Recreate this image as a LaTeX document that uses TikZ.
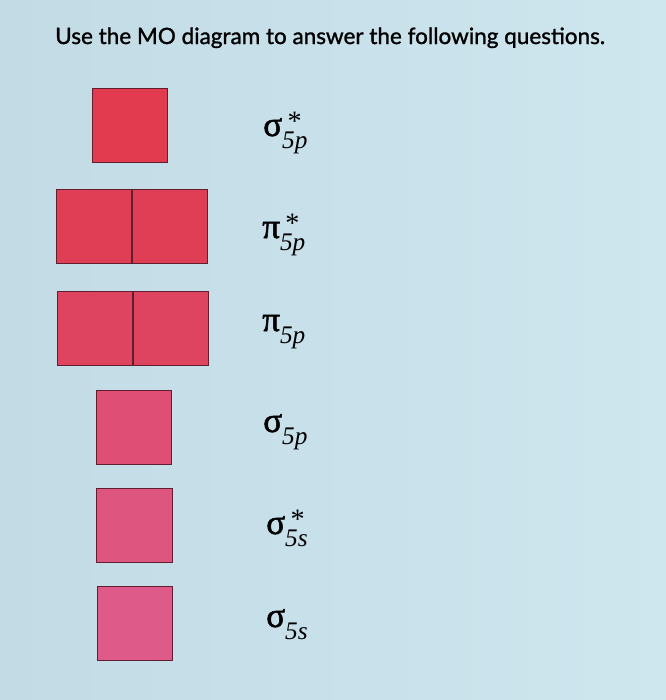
\documentclass[tikz,border=0pt]{standalone}
\usepackage{fontspec}
\setmainfont{Liberation Serif}
\newfontfamily\titlefont[FakeBold=1.2]{Lato}
\newfontfamily\greekfont[FakeBold=1.5]{Liberation Serif}
\usetikzlibrary{positioning}

\definecolor{bgleft}{RGB}{194,219,229}
\definecolor{bgright}{RGB}{206,230,238}
\definecolor{edge}{RGB}{96,30,46}
\definecolor{boxa}{RGB}{226,58,78}
\definecolor{boxb}{RGB}{224,62,84}
\definecolor{boxc}{RGB}{222,68,96}
\definecolor{boxd}{RGB}{223,78,116}
\definecolor{boxe}{RGB}{222,85,128}
\definecolor{boxf}{RGB}{222,90,136}

\newcommand{\molabel}[3]{{\greekfont #1}\rlap{\hspace{0.15em}\raisebox{0.17em}{\fontsize{20}{22}\selectfont #2}}\raisebox{-0.36em}{\fontsize{18}{20}\selectfont\itshape #3}}

\tikzset{
  orb/.style={draw=edge, line width=0.7pt, minimum width=1.875cm, minimum height=1.85cm, inner sep=0},
  lvl/.style={anchor=base west, inner sep=0, font=\fontsize{25}{28}\selectfont}
}

\begin{document}
\begin{tikzpicture}[x=0.025cm,y=-0.025cm]
  % background
  \shade[left color=bgleft, right color=bgright] (0,0) rectangle (666,700);
  \node[anchor=base west, inner sep=0, font=\titlefont\fontsize{16}{19}\selectfont] (title) at (55,44)
    {Use the MO diagram to answer the following questions.};

  % orbital boxes
  \node[orb, fill=boxa] (ss5p) at (130,125.5) {};
  \node[orb, fill=boxb] (ps5pa) at (94,226.5) {};
  \node[orb, fill=boxb, right=0pt of ps5pa] (ps5pb) {};
  \node[orb, fill=boxc] (p5pa) at (95,328) {};
  \node[orb, fill=boxc, right=0pt of p5pa] (p5pb) {};
  \node[orb, fill=boxd] (s5p) at (134,427) {};
  \node[orb, fill=boxe] (ss5s) at (134.5,525.5) {};
  \node[orb, fill=boxf] (s5s) at (135,623) {};

  % level labels
  \node[lvl] (lss5p) at (263,136) {\molabel{σ}{*}{5p}};
  \node[lvl] (lps5p) at (262,238) {\molabel{π}{*}{5p}};
  \node[lvl] (lp5p) at (262,331) {\molabel{π}{}{5p}};
  \node[lvl] (ls5p) at (263,432) {\molabel{σ}{}{5p}};
  \node[lvl] (lss5s) at (266,534) {\molabel{σ}{*}{5s}};
  \node[lvl] (ls5s) at (266,627) {\molabel{σ}{}{5s}};
\end{tikzpicture}
\end{document}
